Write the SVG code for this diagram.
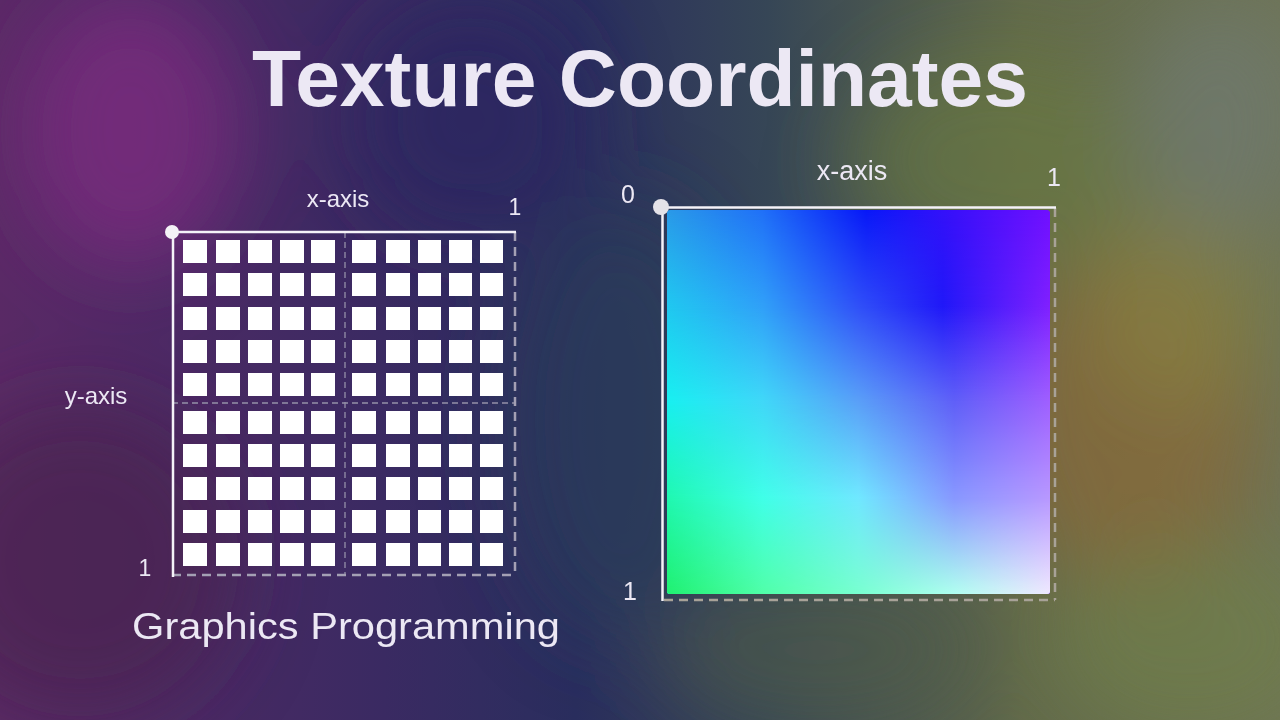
<svg xmlns="http://www.w3.org/2000/svg" width="1280" height="720" viewBox="0 0 1280 720">
<defs>
<style>
.lbl{font-family:"Liberation Sans",Arial,sans-serif;fill:#ece8f4}
.sq{fill:#ffffff}
.solid{stroke:#f4f2f8;stroke-width:2.5;fill:none}
.dash{stroke:#a4a0b4;stroke-width:2.5;stroke-dasharray:9 6;fill:none}
.dashthin{stroke:#9490a8;stroke-width:1.3;stroke-dasharray:6 4;fill:none}
</style>
<linearGradient id="bg" x1="0" y1="0" x2="1" y2="0">
<stop offset="0" stop-color="#5a2a66"/>
<stop offset="0.3" stop-color="#3a2a62"/>
<stop offset="0.45" stop-color="#2a2e5e"/>
<stop offset="0.6" stop-color="#364656"/>
<stop offset="0.8" stop-color="#626a4a"/>
<stop offset="1" stop-color="#6e7456"/>
</linearGradient>
<filter id="blur" x="-50%" y="-50%" width="200%" height="200%"><feGaussianBlur stdDeviation="40"/></filter>
<linearGradient id="r0" x1="0" y1="0" x2="1" y2="0">
<stop offset="0" stop-color="#2a9ae8"/><stop offset="0.25" stop-color="#2070f8"/><stop offset="0.52" stop-color="#0818f8"/><stop offset="0.75" stop-color="#3a10fa"/><stop offset="1" stop-color="#7010ff"/>
</linearGradient>
<linearGradient id="r1" x1="0" y1="0" x2="1" y2="0">
<stop offset="0" stop-color="#20c8f0"/><stop offset="0.25" stop-color="#30a0f8"/><stop offset="0.5" stop-color="#3050f8"/><stop offset="0.72" stop-color="#2018f8"/><stop offset="1" stop-color="#8020ff"/>
</linearGradient>
<linearGradient id="r2" x1="0" y1="0" x2="1" y2="0">
<stop offset="0" stop-color="#18f0f0"/><stop offset="0.25" stop-color="#40d8f8"/><stop offset="0.5" stop-color="#5aa0f8"/><stop offset="0.75" stop-color="#6060f8"/><stop offset="1" stop-color="#a060ff"/>
</linearGradient>
<linearGradient id="r3" x1="0" y1="0" x2="1" y2="0">
<stop offset="0" stop-color="#20f8b0"/><stop offset="0.25" stop-color="#40ffe8"/><stop offset="0.5" stop-color="#70e8ff"/><stop offset="0.75" stop-color="#8898ff"/><stop offset="1" stop-color="#b898ff"/>
</linearGradient>
<linearGradient id="r4" x1="0" y1="0" x2="1" y2="0">
<stop offset="0" stop-color="#20f070"/><stop offset="0.25" stop-color="#50ffa8"/><stop offset="0.5" stop-color="#78ffd0"/><stop offset="0.75" stop-color="#b0fff0"/><stop offset="1" stop-color="#f0e8ff"/>
</linearGradient>
<linearGradient id="m1g" gradientUnits="userSpaceOnUse" x1="0" y1="210" x2="0" y2="306"><stop offset="0" stop-color="#000"/><stop offset="1" stop-color="#fff"/></linearGradient>
<linearGradient id="m2g" gradientUnits="userSpaceOnUse" x1="0" y1="306" x2="0" y2="402"><stop offset="0" stop-color="#000"/><stop offset="1" stop-color="#fff"/></linearGradient>
<linearGradient id="m3g" gradientUnits="userSpaceOnUse" x1="0" y1="402" x2="0" y2="498"><stop offset="0" stop-color="#000"/><stop offset="1" stop-color="#fff"/></linearGradient>
<linearGradient id="m4g" gradientUnits="userSpaceOnUse" x1="0" y1="498" x2="0" y2="594"><stop offset="0" stop-color="#000"/><stop offset="1" stop-color="#fff"/></linearGradient>
<mask id="m1" maskUnits="userSpaceOnUse" x="660" y="200" width="400" height="400"><rect x="660" y="200" width="400" height="400" fill="url(#m1g)"/></mask>
<mask id="m2" maskUnits="userSpaceOnUse" x="660" y="200" width="400" height="400"><rect x="660" y="200" width="400" height="400" fill="url(#m2g)"/></mask>
<mask id="m3" maskUnits="userSpaceOnUse" x="660" y="200" width="400" height="400"><rect x="660" y="200" width="400" height="400" fill="url(#m3g)"/></mask>
<mask id="m4" maskUnits="userSpaceOnUse" x="660" y="200" width="400" height="400"><rect x="660" y="200" width="400" height="400" fill="url(#m4g)"/></mask>
</defs>

<g id="background">
<rect width="1280" height="720" fill="url(#bg)"/>
<g filter="url(#blur)">
<ellipse cx="130" cy="130" rx="110" ry="140" fill="#7a2a7e" opacity="0.8"/>
<ellipse cx="80" cy="560" rx="160" ry="160" fill="#4a2450" opacity="0.7"/>
<ellipse cx="470" cy="120" rx="120" ry="120" fill="#2a2560" opacity="0.8"/>
<ellipse cx="620" cy="420" rx="120" ry="220" fill="#2a3a5a" opacity="0.7"/>
<ellipse cx="1130" cy="420" rx="130" ry="170" fill="#8a6a38" opacity="0.7"/>
<ellipse cx="1180" cy="300" rx="90" ry="110" fill="#8a8840" opacity="0.5"/>
<ellipse cx="1000" cy="160" rx="150" ry="110" fill="#6a7a40" opacity="0.6"/>
<ellipse cx="1220" cy="120" rx="90" ry="120" fill="#707a72" opacity="0.7"/>
<ellipse cx="1190" cy="640" rx="140" ry="100" fill="#708048" opacity="0.6"/>
<ellipse cx="820" cy="650" rx="160" ry="80" fill="#4e5a4a" opacity="0.6"/>
</g>
</g>

<g id="title">
<text class="lbl" x="640" y="106" text-anchor="middle" font-size="80" font-weight="bold" textLength="776" lengthAdjust="spacingAndGlyphs">Texture Coordinates</text>
</g>

<g id="left-grid">
<line class="dashthin" x1="345" y1="232" x2="345" y2="576"/>
<line class="dashthin" x1="172" y1="403" x2="515" y2="403"/>
<line class="dash" x1="515" y1="232" x2="515" y2="576"/>
<line class="dash" x1="172" y1="575" x2="515" y2="575"/>
<g id="squares">
<g transform="translate(0,240)">
<rect class="sq" x="183" width="24" height="23"/><rect class="sq" x="216" width="24" height="23"/><rect class="sq" x="248" width="24" height="23"/><rect class="sq" x="280" width="24" height="23"/><rect class="sq" x="311" width="24" height="23"/><rect class="sq" x="352" width="24" height="23"/><rect class="sq" x="386" width="24" height="23"/><rect class="sq" x="418" width="23" height="23"/><rect class="sq" x="449" width="23" height="23"/><rect class="sq" x="480" width="23" height="23"/>
</g>
<g transform="translate(0,273)">
<rect class="sq" x="183" width="24" height="23"/><rect class="sq" x="216" width="24" height="23"/><rect class="sq" x="248" width="24" height="23"/><rect class="sq" x="280" width="24" height="23"/><rect class="sq" x="311" width="24" height="23"/><rect class="sq" x="352" width="24" height="23"/><rect class="sq" x="386" width="24" height="23"/><rect class="sq" x="418" width="23" height="23"/><rect class="sq" x="449" width="23" height="23"/><rect class="sq" x="480" width="23" height="23"/>
</g>
<g transform="translate(0,307)">
<rect class="sq" x="183" width="24" height="23"/><rect class="sq" x="216" width="24" height="23"/><rect class="sq" x="248" width="24" height="23"/><rect class="sq" x="280" width="24" height="23"/><rect class="sq" x="311" width="24" height="23"/><rect class="sq" x="352" width="24" height="23"/><rect class="sq" x="386" width="24" height="23"/><rect class="sq" x="418" width="23" height="23"/><rect class="sq" x="449" width="23" height="23"/><rect class="sq" x="480" width="23" height="23"/>
</g>
<g transform="translate(0,340)">
<rect class="sq" x="183" width="24" height="23"/><rect class="sq" x="216" width="24" height="23"/><rect class="sq" x="248" width="24" height="23"/><rect class="sq" x="280" width="24" height="23"/><rect class="sq" x="311" width="24" height="23"/><rect class="sq" x="352" width="24" height="23"/><rect class="sq" x="386" width="24" height="23"/><rect class="sq" x="418" width="23" height="23"/><rect class="sq" x="449" width="23" height="23"/><rect class="sq" x="480" width="23" height="23"/>
</g>
<g transform="translate(0,373)">
<rect class="sq" x="183" width="24" height="23"/><rect class="sq" x="216" width="24" height="23"/><rect class="sq" x="248" width="24" height="23"/><rect class="sq" x="280" width="24" height="23"/><rect class="sq" x="311" width="24" height="23"/><rect class="sq" x="352" width="24" height="23"/><rect class="sq" x="386" width="24" height="23"/><rect class="sq" x="418" width="23" height="23"/><rect class="sq" x="449" width="23" height="23"/><rect class="sq" x="480" width="23" height="23"/>
</g>
<g transform="translate(0,411)">
<rect class="sq" x="183" width="24" height="23"/><rect class="sq" x="216" width="24" height="23"/><rect class="sq" x="248" width="24" height="23"/><rect class="sq" x="280" width="24" height="23"/><rect class="sq" x="311" width="24" height="23"/><rect class="sq" x="352" width="24" height="23"/><rect class="sq" x="386" width="24" height="23"/><rect class="sq" x="418" width="23" height="23"/><rect class="sq" x="449" width="23" height="23"/><rect class="sq" x="480" width="23" height="23"/>
</g>
<g transform="translate(0,444)">
<rect class="sq" x="183" width="24" height="23"/><rect class="sq" x="216" width="24" height="23"/><rect class="sq" x="248" width="24" height="23"/><rect class="sq" x="280" width="24" height="23"/><rect class="sq" x="311" width="24" height="23"/><rect class="sq" x="352" width="24" height="23"/><rect class="sq" x="386" width="24" height="23"/><rect class="sq" x="418" width="23" height="23"/><rect class="sq" x="449" width="23" height="23"/><rect class="sq" x="480" width="23" height="23"/>
</g>
<g transform="translate(0,477)">
<rect class="sq" x="183" width="24" height="23"/><rect class="sq" x="216" width="24" height="23"/><rect class="sq" x="248" width="24" height="23"/><rect class="sq" x="280" width="24" height="23"/><rect class="sq" x="311" width="24" height="23"/><rect class="sq" x="352" width="24" height="23"/><rect class="sq" x="386" width="24" height="23"/><rect class="sq" x="418" width="23" height="23"/><rect class="sq" x="449" width="23" height="23"/><rect class="sq" x="480" width="23" height="23"/>
</g>
<g transform="translate(0,510)">
<rect class="sq" x="183" width="24" height="23"/><rect class="sq" x="216" width="24" height="23"/><rect class="sq" x="248" width="24" height="23"/><rect class="sq" x="280" width="24" height="23"/><rect class="sq" x="311" width="24" height="23"/><rect class="sq" x="352" width="24" height="23"/><rect class="sq" x="386" width="24" height="23"/><rect class="sq" x="418" width="23" height="23"/><rect class="sq" x="449" width="23" height="23"/><rect class="sq" x="480" width="23" height="23"/>
</g>
<g transform="translate(0,543)">
<rect class="sq" x="183" width="24" height="23"/><rect class="sq" x="216" width="24" height="23"/><rect class="sq" x="248" width="24" height="23"/><rect class="sq" x="280" width="24" height="23"/><rect class="sq" x="311" width="24" height="23"/><rect class="sq" x="352" width="24" height="23"/><rect class="sq" x="386" width="24" height="23"/><rect class="sq" x="418" width="23" height="23"/><rect class="sq" x="449" width="23" height="23"/><rect class="sq" x="480" width="23" height="23"/>
</g>
</g>
<line class="solid" x1="172" y1="232" x2="516" y2="232"/>
<line class="solid" x1="173" y1="232" x2="173" y2="577"/>
<circle cx="172" cy="232" r="7" fill="#f4f2f6"/>
<text class="lbl" x="338" y="207" text-anchor="middle" font-size="24">x-axis</text>
<text class="lbl" x="515" y="215" text-anchor="middle" font-size="23">1</text>
<text class="lbl" x="96" y="404" text-anchor="middle" font-size="24">y-axis</text>
<text class="lbl" x="145" y="576" text-anchor="middle" font-size="23">1</text>
</g>

<g id="caption">
<text class="lbl" x="346" y="639" text-anchor="middle" font-size="37" textLength="428" lengthAdjust="spacingAndGlyphs">Graphics Programming</text>
</g>

<g id="right-texture">
<line class="dash" x1="1055" y1="208" x2="1055" y2="600" style="stroke:#a8a298"/>
<line class="dash" x1="664" y1="600" x2="1055" y2="600" style="stroke:#a8a298"/>
<g id="texture">
<rect x="667" y="210" width="383" height="384" rx="3" fill="url(#r0)"/>
<rect x="667" y="210" width="383" height="384" rx="3" fill="url(#r1)" mask="url(#m1)"/>
<rect x="667" y="210" width="383" height="384" rx="3" fill="url(#r2)" mask="url(#m2)"/>
<rect x="667" y="210" width="383" height="384" rx="3" fill="url(#r3)" mask="url(#m3)"/>
<rect x="667" y="210" width="383" height="384" rx="3" fill="url(#r4)" mask="url(#m4)"/>
</g>
<line class="solid" x1="661" y1="207.5" x2="1056" y2="207.5"/>
<line class="solid" x1="662.5" y1="207" x2="662.5" y2="601"/>
<circle cx="661" cy="207" r="8" fill="#e4e2e8"/>
<text class="lbl" x="852" y="180" text-anchor="middle" font-size="27">x-axis</text>
<text class="lbl" x="628" y="203" text-anchor="middle" font-size="25">0</text>
<text class="lbl" x="1054" y="186" text-anchor="middle" font-size="25">1</text>
<text class="lbl" x="630" y="600" text-anchor="middle" font-size="25">1</text>
</g>
</svg>
